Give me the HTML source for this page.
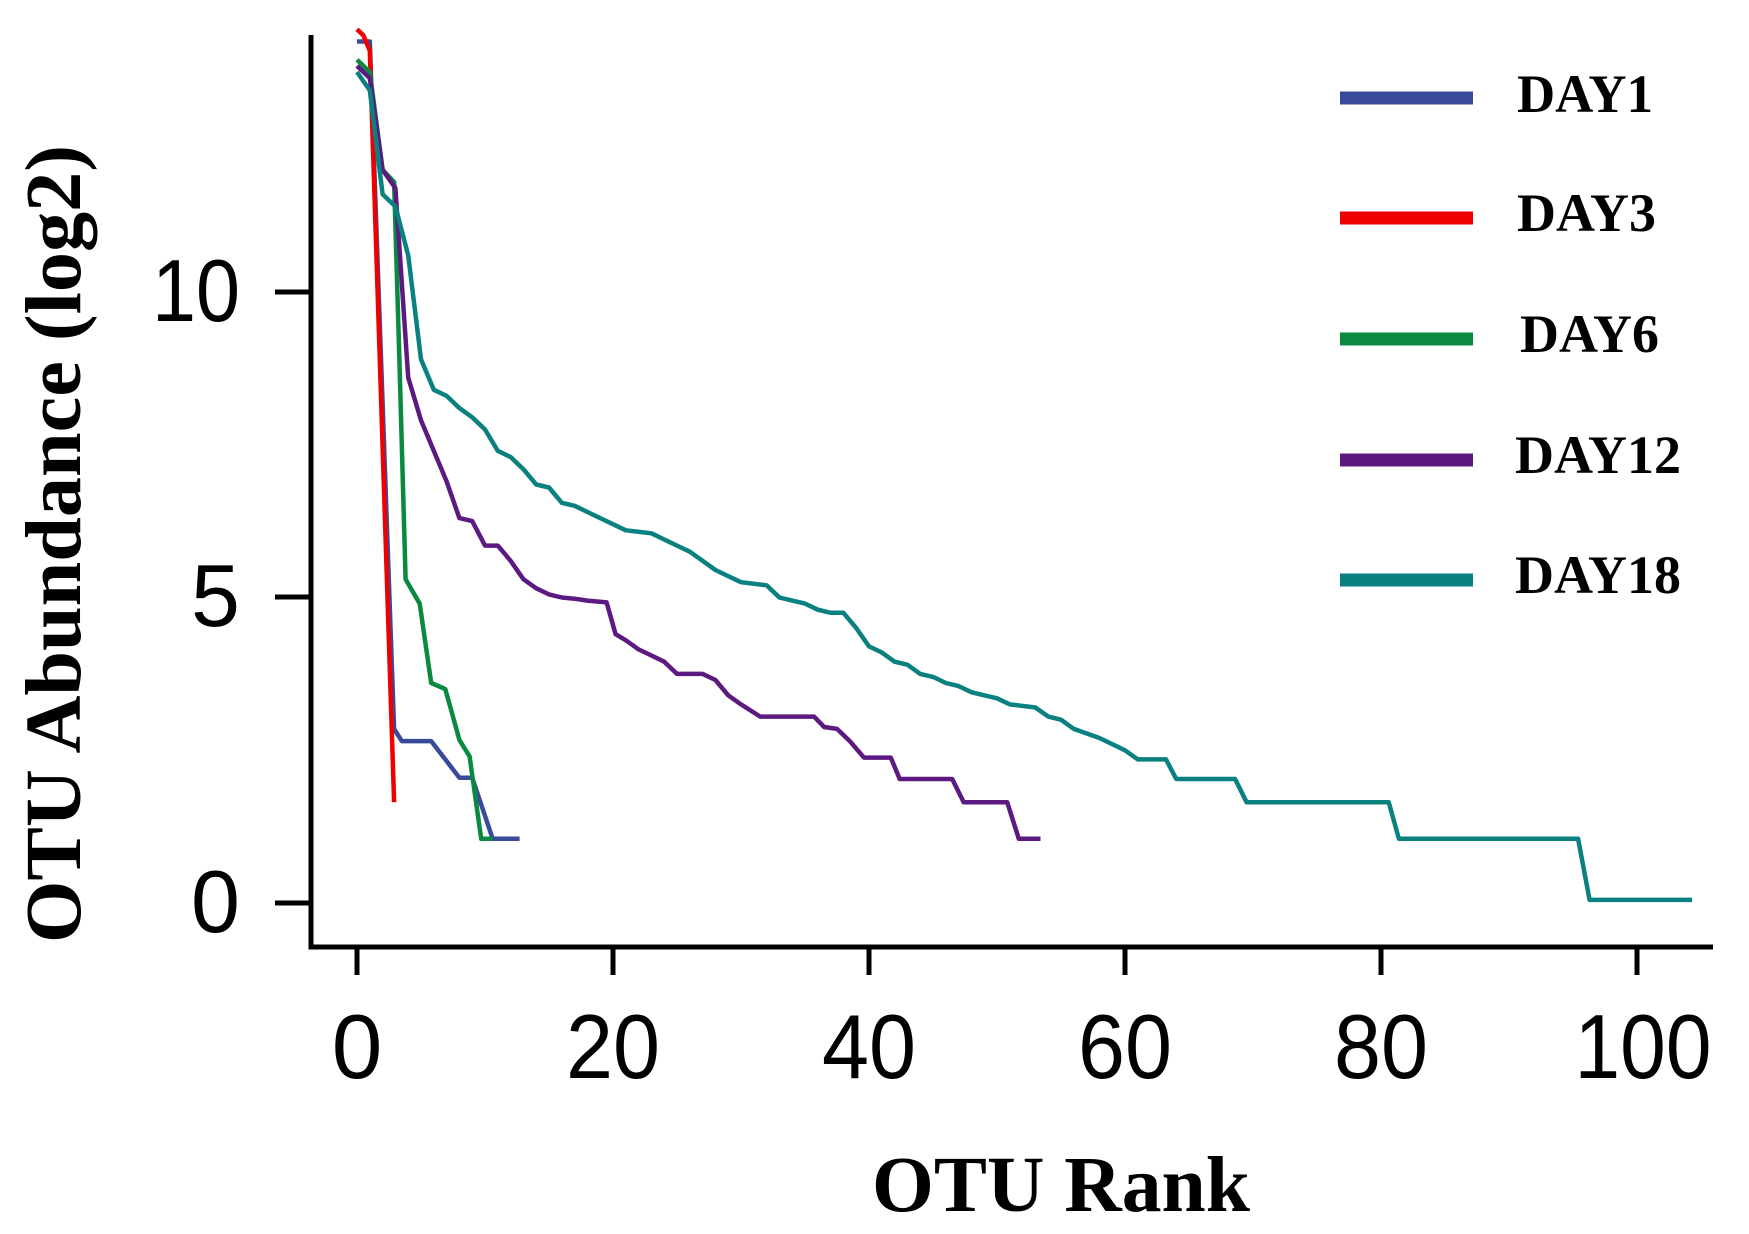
<!DOCTYPE html>
<html><head><meta charset="utf-8"><style>html,body{margin:0;padding:0;background:#fff}svg{display:block}</style></head>
<body>
<svg id="s" xmlns="http://www.w3.org/2000/svg" width="1749" height="1234" viewBox="0 0 1749 1234">
<rect width="1749" height="1234" fill="#fff"/>
<g stroke="#000" stroke-width="5" fill="none" stroke-linecap="butt">
<path d="M311,35 V947 H1713"/>
<path d="M275,903 H311 M275,597 H311 M275,292 H311"/>
<path d="M357,947 V975 M613,947 V975 M869,947 V975 M1125,947 V975 M1381,947 V975 M1637,947 V975"/>
</g>
<g font-family="Liberation Sans, Arial, sans-serif" font-size="88" fill="#000">
<text x="240" y="932" text-anchor="end">0</text>
<text x="240" y="626" text-anchor="end">5</text>
<text x="240" y="321" text-anchor="end" textLength="88" lengthAdjust="spacingAndGlyphs">10</text>
</g>
<g font-family="Liberation Sans, Arial, sans-serif" font-size="91" fill="#000" text-anchor="middle">
<text x="357" y="1078">0</text>
<text x="613" y="1078" textLength="94" lengthAdjust="spacingAndGlyphs">20</text>
<text x="869" y="1078" textLength="94" lengthAdjust="spacingAndGlyphs">40</text>
<text x="1125" y="1078" textLength="94" lengthAdjust="spacingAndGlyphs">60</text>
<text x="1381" y="1078" textLength="94" lengthAdjust="spacingAndGlyphs">80</text>
<text x="1643" y="1078" textLength="137" lengthAdjust="spacingAndGlyphs">100</text>
</g>
<g font-family="Liberation Serif, serif" font-weight="bold" fill="#000">
<text x="1061" y="1211" font-size="79" text-anchor="middle" textLength="378" lengthAdjust="spacingAndGlyphs">OTU Rank</text>
<text transform="translate(80,544) rotate(-90)" font-size="79" text-anchor="middle" textLength="798" lengthAdjust="spacingAndGlyphs">OTU Abundance (log2)</text>
</g>
<g id="series" fill="none" stroke-width="4.5" stroke-linejoin="round"></g>
<g stroke-width="13">
<line x1="1340" y1="98" x2="1473" y2="98" stroke="#3a4a9a"/>
<line x1="1340" y1="218" x2="1473" y2="218" stroke="#ee0000"/>
<line x1="1340" y1="339" x2="1473" y2="339" stroke="#0a8a40"/>
<line x1="1340" y1="460" x2="1473" y2="460" stroke="#5c1a80"/>
<line x1="1340" y1="580" x2="1473" y2="580" stroke="#0a8080"/>
</g>
<g font-family="Liberation Serif, serif" font-weight="bold" font-size="54" fill="#000">
<text x="1517" y="112" textLength="136" lengthAdjust="spacingAndGlyphs">DAY1</text>
<text x="1517" y="231" textLength="139" lengthAdjust="spacingAndGlyphs">DAY3</text>
<text x="1520" y="352" textLength="139" lengthAdjust="spacingAndGlyphs">DAY6</text>
<text x="1515" y="473" textLength="166" lengthAdjust="spacingAndGlyphs">DAY12</text>
<text x="1515" y="593" textLength="166" lengthAdjust="spacingAndGlyphs">DAY18</text>
</g>
</svg>
<script>
var X=function(r){return 357+12.8*r},Y=function(v){return 903-61.1*v};
var S=[
["#3a4a9a",[[0,14.1],[1,14.1],[2.9,2.85],[3.5,2.65],[5.8,2.65],[8,2.05],[9,2.05],[10.6,1.05],[12.7,1.05]]],
["#ee0000",[[0,14.3],[0.5,14.2],[1,13.95],[2.9,1.65]]],
["#0a8a40",[[0,13.8],[1,13.6],[2,12.0],[2.9,11.8],[3.3,9],[3.8,5.3],[4.9,4.9],[5.8,3.6],[6.9,3.5],[8,2.67],[8.8,2.4],[9.7,1.05],[10.6,1.05]]],
["#5c1a80",[[0,13.7],[1,13.5],[2,12.0],[3,11.7],[4,8.6],[5,7.9],[6,7.4],[7,6.9],[8,6.3],[9,6.25],[10,5.85],[11,5.85],[12,5.6],[13,5.3],[14,5.15],[15,5.05],[16,5.0],[17,4.98],[18,4.95],[19.5,4.92],[20.2,4.4],[21,4.3],[22,4.15],[23,4.05],[24,3.95],[25,3.75],[27,3.75],[28,3.65],[29,3.4],[30,3.25],[31.5,3.05],[35.7,3.05],[36.5,2.88],[37.5,2.85],[38.5,2.65],[39.6,2.38],[41.7,2.38],[42.4,2.03],[46.5,2.03],[47.4,1.65],[50.8,1.65],[51.7,1.05],[53.4,1.05]]],
["#0a8080",[[0,13.6],[1,13.3],[2,11.6],[3,11.4],[4,10.6],[5,8.9],[6,8.4],[7,8.3],[8,8.1],[9,7.95],[10,7.75],[11,7.4],[12,7.3],[13,7.1],[14,6.85],[15,6.8],[16,6.55],[17,6.5],[18,6.4],[19,6.3],[20,6.2],[21,6.1],[23,6.05],[24,5.95],[25,5.85],[26,5.75],[27,5.6],[28,5.45],[29,5.35],[30,5.25],[32,5.2],[33,5.0],[34,4.95],[35,4.9],[36,4.8],[37,4.75],[38,4.75],[39,4.5],[40,4.2],[41,4.1],[42,3.95],[43,3.9],[44,3.75],[45,3.7],[46,3.6],[47,3.55],[48,3.45],[49,3.4],[50,3.35],[51,3.25],[53,3.2],[54,3.05],[55,3.0],[56,2.85],[58,2.7],[59,2.6],[60,2.5],[61,2.35],[63.2,2.35],[64,2.03],[68.6,2.03],[69.5,1.65],[80.6,1.65],[81.4,1.05],[95.4,1.05],[96.3,0.05],[104.3,0.05]]]];
var g=document.getElementById("series"),h="";
S.forEach(function(s){var d=s[1].map(function(p,i){return (i?"L":"M")+X(p[0]).toFixed(1)+","+Y(p[1]).toFixed(1)}).join("");h+='<path stroke="'+s[0]+'" d="'+d+'"/>';});
g.innerHTML=h;
</script>
</body></html>
